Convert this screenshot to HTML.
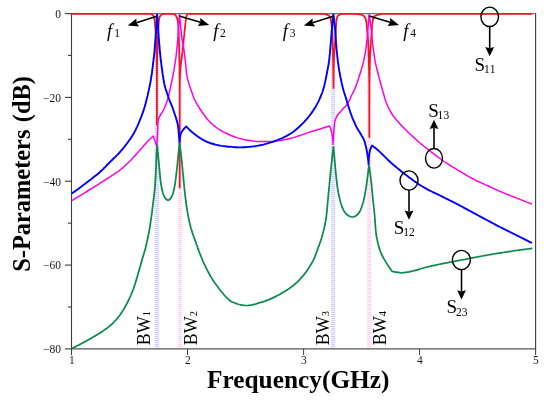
<!DOCTYPE html>
<html><head><meta charset="utf-8"><title>S-Parameters</title>
<style>
html,body{margin:0;padding:0;background:#fff;}
svg{display:block;}
text{font-family:"Liberation Serif",serif;fill:#000;}
.tick{font-size:11.5px;fill:#1a1a1a;}
.bold{font-weight:bold;}
.it{font-style:italic;}
</style></head><body>
<svg width="550" height="403" viewBox="0 0 550 403">
<defs>
<pattern id="pb" width="4" height="2" patternUnits="userSpaceOnUse"><rect width="4" height="2" fill="#f4f4ff"/><rect y="0" width="4" height="1" fill="#ccccff"/></pattern>
<pattern id="pp" width="4" height="2" patternUnits="userSpaceOnUse"><rect width="4" height="2" fill="#fff4fb"/><rect y="0" width="4" height="1" fill="#ffd0ef"/></pattern>
</defs>
<rect width="550" height="403" fill="#fff"/>

<rect x="154.6" y="13.6" width="4.4" height="334.7" fill="url(#pb)"/>
<rect x="178.2" y="13.6" width="3.8" height="334.7" fill="url(#pp)"/>
<rect x="331.1" y="13.6" width="4.1" height="334.7" fill="url(#pb)"/>
<rect x="367.1" y="13.6" width="4.2" height="334.7" fill="url(#pp)"/>
<g stroke="#3c3c3c" stroke-width="1.1" fill="none">
<path d="M71.5 13.0 V349.5"/><path d="M535.6 13.0 V349.5"/>
<path d="M71.0 348.9 H536.1" stroke="#555" stroke-width="1.4"/>
<path d="M71.5 13.6 H535.6" stroke="#707070"/>
<path d="M64.9 13.6 H71.5"/>
<path d="M67.9 55.5 H71.5"/>
<path d="M64.9 97.4 H71.5"/>
<path d="M67.9 139.3 H71.5"/>
<path d="M64.9 181.2 H71.5"/>
<path d="M67.9 223.2 H71.5"/>
<path d="M64.9 265.1 H71.5"/>
<path d="M67.9 307.0 H71.5"/>
<path d="M64.9 348.9 H71.5"/>
<path d="M71.5 348.9 V355.1" stroke-width="1"/>
<path d="M187.5 348.9 V355.1" stroke-width="1"/>
<path d="M303.6 348.9 V355.1" stroke-width="1"/>
<path d="M419.6 348.9 V355.1" stroke-width="1"/>
<path d="M535.6 348.9 V355.1" stroke-width="1"/>
</g>
<text class="tick" x="61" y="17.9" text-anchor="end">0</text>
<text class="tick" x="61" y="101.7" text-anchor="end">−20</text>
<text class="tick" x="61" y="185.5" text-anchor="end">−40</text>
<text class="tick" x="61" y="269.4" text-anchor="end">−60</text>
<text class="tick" x="61" y="353.2" text-anchor="end">−80</text>
<text class="tick" x="71.8" y="364.0" text-anchor="middle">1</text>
<text class="tick" x="187.8" y="364.0" text-anchor="middle">2</text>
<text class="tick" x="303.9" y="364.0" text-anchor="middle">3</text>
<text class="tick" x="419.9" y="364.0" text-anchor="middle">4</text>
<text class="tick" x="535.9" y="364.0" text-anchor="middle">5</text>
<path d="M71.7 13.9 L73.6 13.9 L75.6 13.9 L77.5 13.9 L79.4 13.9 L81.4 13.9 L83.3 13.9 L85.2 13.9 L87.2 13.9 L89.1 13.9 L91.0 13.9 L93.0 13.9 L94.9 13.9 L96.8 13.9 L98.7 13.9 L100.7 13.9 L102.6 13.9 L104.5 13.9 L106.5 13.9 L108.4 13.9 L110.3 13.9 L112.3 13.9 L114.2 13.9 L116.1 13.9 L118.1 13.9 L120.0 13.9 L122.0 13.9 L124.0 13.9 L126.0 13.9 L128.0 13.9 L130.0 13.9 L132.0 13.9 L134.0 13.9 L136.0 13.9 L138.0 13.9 L140.0 13.9 L142.0 13.9 L144.0 13.9 L146.0 13.9 L147.5 13.9 L149.0 13.9 L150.4 14.0 L151.5 14.3 L152.5 14.9 L153.3 15.6 L153.8 16.4 L154.2 17.9 L154.5 19.5 L154.7 21.2 L154.9 22.9 L155.1 24.8 L155.3 26.6 L155.4 28.5 L155.6 30.4 L155.7 32.3 L155.8 34.1 L155.9 36.0 L156.0 37.9 L156.1 39.7 L156.2 41.6 L156.2 43.4 L156.3 45.3 L156.4 47.1 L156.4 48.9 L156.5 50.8 L156.6 52.6 L156.6 54.5 L156.6 56.3 L156.7 58.2 L156.7 60.0 L156.7 61.9 L156.7 63.8 L156.8 65.8 L156.8 67.7 L156.8 69.6 L156.8 71.5 L156.8 73.5 L156.9 75.4 L156.9 77.3 L156.9 79.2 L156.9 81.2 L156.9 83.1 L156.9 85.0 L156.9 87.0 L156.9 88.9 L156.9 90.9 L156.9 92.9 L156.9 94.9 L156.9 96.8 L156.9 98.8 L156.9 100.8 L156.9 102.8 L156.9 104.7 L156.9 106.7 L156.9 108.7 L156.9 110.7 L156.9 112.6 L156.9 114.6 L156.9 116.6 L156.9 118.6 L156.9 120.5 L156.9 122.5 L156.9 124.5 L156.9 122.5 L156.9 120.5 L156.9 118.6 L156.9 116.6 L156.9 114.6 L156.9 112.6 L156.9 110.7 L156.9 108.7 L156.9 106.7 L156.9 104.7 L156.9 102.8 L156.9 100.8 L156.9 98.8 L156.9 96.8 L156.9 94.9 L156.9 92.9 L156.9 90.9 L156.9 88.9 L156.9 87.0 L156.9 85.0 L156.9 83.1 L156.9 81.2 L156.9 79.2 L156.9 77.3 L156.9 75.4 L157.0 73.5 L157.0 71.5 L157.0 69.6 L157.0 67.7 L157.0 65.8 L157.1 63.8 L157.1 61.9 L157.1 60.0 L157.1 58.2 L157.2 56.3 L157.2 54.5 L157.3 52.6 L157.3 50.8 L157.4 48.9 L157.5 47.1 L157.6 45.3 L157.7 43.4 L157.7 41.6 L157.8 39.7 L157.9 37.9 L158.0 36.0 L158.1 34.1 L158.1 32.3 L158.2 30.4 L158.3 28.5 L158.4 26.6 L158.6 24.8 L158.7 22.9 L158.9 20.9 L159.2 18.9 L159.6 17.0 L160.3 15.8 L161.3 14.8 L162.1 14.2 L163.0 13.9 L164.5 13.9 L166.0 13.9 L168.0 13.9 L170.0 13.9 L171.6 14.0 L173.2 14.1 L174.3 14.5 L175.3 15.1 L176.2 16.3 L176.9 17.7 L177.4 19.4 L177.8 21.1 L178.0 22.9 L178.2 24.8 L178.3 26.6 L178.4 28.5 L178.5 30.4 L178.6 32.3 L178.7 34.1 L178.7 36.0 L178.8 37.9 L178.9 39.8 L178.9 41.7 L179.0 43.6 L179.1 45.5 L179.1 47.4 L179.2 49.3 L179.2 51.2 L179.3 53.1 L179.3 55.0 L179.3 56.9 L179.4 58.7 L179.4 60.6 L179.5 62.5 L179.5 64.4 L179.6 66.2 L179.6 68.1 L179.6 70.0 L179.6 71.9 L179.6 73.7 L179.6 75.6 L179.6 77.5 L179.7 79.4 L179.7 81.2 L179.7 83.1 L179.7 85.0 L179.7 86.9 L179.7 88.7 L179.7 90.6 L179.7 92.5 L179.7 94.4 L179.7 96.2 L179.7 98.1 L179.7 100.0 L179.7 102.0 L179.7 104.0 L179.7 106.0 L179.7 108.0 L179.7 109.9 L179.7 111.9 L179.7 113.9 L179.7 115.9 L179.7 117.9 L179.7 119.9 L179.7 121.9 L179.7 123.9 L179.7 125.9 L179.7 127.8 L179.7 129.8 L179.7 131.8 L179.7 133.8 L179.7 135.8 L179.7 137.8 L179.7 139.8 L179.7 141.8 L179.7 143.7 L179.7 145.7 L179.7 147.7 L179.7 149.7 L179.7 151.7 L179.7 153.7 L179.7 155.7 L179.7 157.7 L179.7 159.7 L179.7 161.6 L179.7 163.6 L179.7 165.6 L179.7 167.6 L179.7 169.6 L179.7 171.6 L179.7 173.6 L179.7 175.6 L179.7 177.6 L179.7 179.5 L179.7 181.5 L179.7 183.5 L179.7 185.5 L179.7 187.5 L179.7 185.5 L179.7 183.5 L179.7 181.5 L179.7 179.5 L179.7 177.6 L179.7 175.6 L179.7 173.6 L179.7 171.6 L179.7 169.6 L179.7 167.6 L179.7 165.6 L179.7 163.6 L179.7 161.6 L179.7 159.7 L179.7 157.7 L179.7 155.7 L179.7 153.7 L179.7 151.7 L179.7 149.7 L179.7 147.7 L179.7 145.7 L179.7 143.7 L179.7 141.8 L179.7 139.8 L179.7 137.8 L179.7 135.8 L179.7 133.8 L179.7 131.8 L179.7 129.8 L179.7 127.8 L179.7 125.9 L179.7 123.9 L179.7 121.9 L179.7 119.9 L179.7 117.9 L179.7 115.9 L179.7 113.9 L179.7 111.9 L179.7 109.9 L179.7 108.0 L179.7 106.0 L179.7 104.0 L179.7 102.0 L179.7 100.0 L179.7 98.2 L179.7 96.4 L179.7 94.6 L179.7 92.8 L179.7 91.0 L179.7 89.2 L179.8 87.4 L179.8 85.6 L179.8 83.8 L179.8 82.0 L179.8 80.3 L179.9 78.5 L179.9 76.8 L180.0 75.0 L180.1 73.3 L180.2 71.5 L180.3 69.8 L180.4 68.1 L180.6 66.3 L180.8 64.6 L181.0 62.9 L181.3 61.1 L181.5 59.4 L181.8 57.5 L182.0 55.5 L182.3 53.6 L182.6 51.6 L182.8 49.7 L183.0 47.8 L183.2 45.8 L183.4 43.9 L183.5 41.9 L183.7 39.9 L183.9 38.0 L184.1 36.2 L184.3 34.4 L184.4 32.7 L184.6 30.9 L184.8 29.1 L185.0 27.3 L185.2 25.6 L185.4 23.8 L185.6 22.0 L185.8 20.4 L185.9 18.7 L186.2 17.1 L186.5 15.6 L186.9 14.8 L187.6 14.2 L188.7 14.0 L190.0 13.9 L192.0 13.9 L194.0 13.9 L196.0 13.9 L198.0 13.9 L200.0 13.9 L202.0 13.9 L204.0 13.9 L206.0 13.9 L208.0 13.9 L210.0 13.9 L212.0 13.9 L214.0 13.9 L216.0 13.9 L218.0 13.9 L220.0 13.9 L222.0 13.9 L224.0 13.9 L226.0 13.9 L228.0 13.9 L230.0 13.9 L232.0 13.9 L234.0 13.9 L236.0 13.9 L238.0 13.9 L240.0 13.9 L242.0 13.9 L244.0 13.9 L246.0 13.9 L248.0 13.9 L250.0 13.9 L251.9 13.9 L253.9 13.9 L255.8 13.9 L257.8 13.9 L259.7 13.9 L261.7 13.9 L263.6 13.9 L265.5 13.9 L267.5 13.9 L269.4 13.9 L271.4 13.9 L273.3 13.9 L275.3 13.9 L277.2 13.9 L279.1 13.9 L281.1 13.9 L283.0 13.9 L285.0 13.9 L286.9 13.9 L288.9 13.9 L290.8 13.9 L292.7 13.9 L294.7 13.9 L296.6 13.9 L298.6 13.9 L300.5 13.9 L302.5 13.9 L304.4 13.9 L306.3 13.9 L308.3 13.9 L310.2 13.9 L312.2 13.9 L314.1 13.9 L316.1 13.9 L318.0 13.9 L320.0 13.9 L322.0 13.9 L323.5 14.0 L325.0 14.2 L326.8 14.6 L328.4 15.2 L329.5 16.3 L330.3 17.7 L330.7 19.3 L331.1 21.1 L331.3 22.9 L331.5 24.8 L331.7 26.6 L331.9 28.5 L332.0 30.4 L332.1 32.3 L332.3 34.1 L332.4 36.0 L332.5 37.9 L332.6 39.7 L332.6 41.6 L332.7 43.4 L332.8 45.3 L332.8 47.1 L332.9 48.9 L332.9 50.8 L333.0 52.6 L333.0 54.5 L333.0 56.3 L333.1 58.2 L333.1 60.0 L333.1 61.9 L333.2 63.7 L333.2 65.6 L333.2 67.5 L333.3 69.3 L333.3 71.2 L333.3 73.1 L333.4 74.9 L333.4 76.8 L333.4 78.7 L333.4 80.5 L333.4 82.4 L333.5 84.3 L333.5 86.1 L333.5 88.0 L333.5 86.1 L333.5 84.3 L333.5 82.4 L333.5 80.5 L333.6 78.7 L333.6 76.8 L333.6 74.9 L333.6 73.1 L333.7 71.2 L333.7 69.3 L333.7 67.5 L333.8 65.6 L333.8 63.7 L333.9 61.9 L333.9 60.0 L334.0 58.1 L334.1 56.2 L334.2 54.4 L334.3 52.5 L334.5 50.6 L334.6 48.7 L334.8 46.9 L334.9 45.0 L335.0 43.2 L335.2 41.5 L335.4 39.7 L335.5 37.9 L335.6 36.0 L335.7 34.2 L335.8 32.3 L335.8 30.4 L335.9 28.6 L336.0 26.7 L336.1 24.8 L336.2 22.9 L336.4 21.0 L336.6 19.2 L337.0 17.4 L337.8 15.9 L338.6 15.3 L339.6 14.8 L340.8 14.3 L342.0 14.0 L343.5 13.9 L345.0 13.9 L347.0 13.9 L349.0 13.9 L351.0 13.9 L352.8 13.9 L354.5 14.0 L356.2 14.1 L357.9 14.2 L359.6 14.4 L361.2 14.7 L362.8 15.3 L364.2 16.3 L365.1 17.6 L365.7 19.2 L366.1 20.9 L366.4 22.6 L366.6 24.4 L366.8 26.3 L367.0 28.1 L367.1 30.0 L367.3 31.9 L367.5 33.4 L367.6 34.9 L367.8 36.4 L367.9 37.9 L368.0 39.7 L368.1 41.6 L368.2 43.4 L368.3 45.3 L368.4 47.1 L368.5 48.9 L368.5 50.8 L368.6 52.6 L368.6 54.5 L368.7 56.3 L368.8 58.2 L368.8 60.0 L368.8 61.9 L368.9 63.7 L368.9 65.6 L369.0 67.5 L369.0 69.4 L369.1 71.2 L369.1 73.1 L369.1 75.0 L369.2 76.9 L369.2 78.7 L369.2 80.6 L369.3 82.5 L369.3 84.4 L369.3 86.2 L369.3 88.1 L369.3 90.0 L369.3 92.0 L369.3 93.9 L369.3 95.9 L369.3 97.8 L369.3 99.8 L369.3 101.7 L369.3 103.7 L369.3 105.7 L369.3 107.6 L369.3 109.6 L369.3 111.5 L369.3 113.5 L369.3 115.5 L369.3 117.4 L369.3 119.4 L369.3 121.3 L369.3 123.3 L369.3 125.2 L369.3 127.2 L369.3 129.2 L369.3 131.1 L369.3 133.1 L369.3 135.0 L369.3 137.0 L369.3 135.0 L369.3 133.1 L369.3 131.1 L369.3 129.2 L369.3 127.2 L369.3 125.2 L369.3 123.3 L369.3 121.3 L369.3 119.4 L369.3 117.4 L369.3 115.5 L369.3 113.5 L369.3 111.5 L369.3 109.6 L369.3 107.6 L369.3 105.7 L369.4 103.7 L369.4 101.7 L369.4 99.8 L369.4 97.8 L369.4 95.9 L369.4 93.9 L369.4 92.0 L369.4 90.0 L369.4 88.1 L369.4 86.2 L369.4 84.4 L369.5 82.5 L369.5 80.6 L369.5 78.7 L369.5 76.9 L369.6 75.0 L369.6 73.1 L369.6 71.2 L369.7 69.4 L369.7 67.5 L369.8 65.6 L369.8 63.7 L369.9 61.9 L369.9 60.0 L370.0 58.2 L370.0 56.3 L370.1 54.5 L370.2 52.6 L370.4 50.8 L370.5 48.9 L370.6 47.1 L370.7 45.3 L370.9 43.4 L371.0 41.6 L371.2 39.7 L371.3 37.9 L371.4 36.0 L371.6 34.1 L371.8 32.3 L371.9 30.4 L372.0 28.5 L372.1 26.6 L372.2 24.8 L372.4 22.9 L372.6 21.4 L372.9 19.8 L373.3 18.4 L374.0 17.0 L375.0 15.9 L376.6 15.2 L378.4 14.7 L380.2 14.3 L382.0 14.0 L383.3 13.9 L384.7 13.9 L386.0 13.9 L388.0 13.9 L390.0 13.9 L392.0 13.9 L394.0 13.9 L396.0 13.9 L398.0 13.9 L400.0 13.9 L402.0 13.9 L404.0 13.9 L406.0 13.9 L408.0 13.9 L410.0 13.9 L412.0 13.9 L414.0 13.9 L416.0 13.9 L418.0 13.9 L420.0 13.9 L422.0 13.9 L424.0 13.9 L426.0 13.9 L428.0 13.9 L430.0 13.9 L432.0 13.9 L434.0 13.9 L436.0 13.9 L438.0 13.9 L440.0 13.9 L442.0 13.9 L444.0 13.9 L446.0 13.9 L448.0 13.9 L450.0 13.9 L452.0 13.9 L454.0 13.9 L456.0 13.9 L458.0 13.9 L460.0 13.9 L462.0 13.9 L464.0 13.9 L466.0 13.9 L468.0 13.9 L470.0 13.9 L472.0 13.9 L474.0 13.9 L476.0 13.9 L478.0 13.9 L480.0 13.9 L482.0 13.9 L484.0 13.9 L486.0 13.9 L488.0 13.9 L490.0 13.9 L492.0 13.9 L494.0 13.9 L496.0 13.9 L498.0 13.9 L500.0 13.9 L502.0 13.9 L504.0 13.9 L506.0 13.9 L508.0 13.9 L510.0 13.9 L512.0 13.9 L514.0 13.9 L516.0 13.9 L518.0 13.9 L520.0 13.9 L522.0 13.9 L524.0 13.9 L526.0 13.9 L528.0 13.9 L530.0 13.9 L532.0 13.9" fill="none" stroke="#f4141c" stroke-width="1.75" stroke-linejoin="round"/>
<path d="M71.7 200.6 L73.4 199.6 L75.0 198.6 L76.7 197.6 L78.4 196.6 L80.0 195.6 L81.7 194.6 L83.4 193.6 L85.0 192.6 L86.7 191.5 L88.3 190.5 L90.0 189.5 L91.7 188.5 L93.3 187.4 L95.0 186.4 L96.7 185.3 L98.4 184.3 L100.0 183.2 L101.7 182.1 L103.3 181.1 L105.0 180.0 L106.5 179.0 L108.0 178.1 L109.6 177.1 L111.1 176.1 L112.6 175.1 L114.1 174.2 L115.6 173.2 L117.1 172.1 L118.6 171.1 L120.0 170.0 L121.5 168.8 L123.0 167.6 L124.4 166.3 L125.8 165.0 L127.2 163.7 L128.6 162.3 L130.0 161.0 L131.3 159.7 L132.6 158.3 L133.8 157.0 L135.1 155.6 L136.3 154.2 L137.5 152.8 L138.8 151.4 L140.0 150.0 L141.1 148.7 L142.3 147.4 L143.4 146.1 L144.5 144.8 L145.7 143.5 L146.8 142.2 L148.0 141.0 L149.3 139.7 L150.6 138.5 L151.9 137.2 L153.2 136.0 L153.7 137.5 L154.2 139.0 L154.8 140.5 L155.3 142.0 L155.8 143.3 L156.3 144.7 L156.8 146.0 L156.9 144.3 L157.0 142.6 L157.1 140.9 L157.2 139.1 L157.3 137.4 L157.4 135.7 L157.5 134.0 L157.6 132.0 L157.6 130.1 L157.7 128.1 L157.7 126.2 L157.8 124.2 L157.9 122.3 L158.1 120.8 L158.5 119.3 L159.0 117.9 L159.8 116.2 L160.8 114.5 L161.9 112.9 L162.9 111.2 L163.7 109.5 L164.5 107.7 L165.3 105.9 L166.0 104.1 L166.7 102.3 L167.3 100.5 L167.8 98.8 L168.3 97.0 L168.7 95.3 L169.1 93.5 L169.5 91.8 L169.9 90.0 L170.3 88.2 L170.6 86.5 L171.0 84.7 L171.4 82.8 L171.8 81.0 L172.2 79.1 L172.6 77.3 L173.0 75.4 L173.3 73.5 L173.7 71.7 L174.0 69.8 L174.3 68.0 L174.6 66.1 L174.9 64.3 L175.2 62.4 L175.5 60.6 L175.7 58.7 L176.0 56.9 L176.2 55.0 L176.4 53.1 L176.6 51.3 L176.8 49.4 L177.0 47.5 L177.2 45.6 L177.4 43.8 L177.5 41.9 L177.7 40.0 L177.8 38.3 L178.0 36.7 L178.1 35.0 L178.2 33.3 L178.3 31.7 L178.4 30.0 L178.5 28.3 L178.6 26.7 L178.7 25.0 L178.8 23.3 L178.9 21.7 L179.0 20.0 L179.1 18.3 L179.3 16.5 L179.4 14.8 L179.6 16.5 L179.8 18.3 L180.0 20.0 L180.2 21.8 L180.4 23.7 L180.6 25.5 L180.7 27.4 L180.9 29.3 L181.1 31.1 L181.3 33.0 L181.5 34.8 L181.8 36.6 L182.0 38.4 L182.3 40.2 L182.6 42.0 L182.9 43.7 L183.2 45.4 L183.5 47.1 L183.8 48.9 L184.1 50.6 L184.3 52.3 L184.5 54.2 L184.8 56.2 L185.0 58.1 L185.2 60.1 L185.4 62.0 L185.6 64.0 L185.8 65.8 L186.0 67.7 L186.1 69.5 L186.3 71.4 L186.5 73.2 L186.8 75.0 L187.1 76.6 L187.4 78.2 L187.8 79.8 L188.3 81.4 L188.7 83.0 L189.3 84.9 L189.9 86.8 L190.5 88.6 L191.2 90.5 L191.8 92.3 L192.5 94.1 L193.1 96.0 L193.8 97.7 L194.6 99.5 L195.4 101.1 L196.2 102.7 L197.1 104.3 L198.1 105.9 L199.0 107.5 L200.0 109.0 L201.0 110.5 L202.0 112.0 L203.1 113.5 L204.2 115.0 L205.3 116.5 L206.4 118.0 L207.6 119.4 L208.8 120.7 L210.0 122.0 L211.3 123.3 L212.6 124.5 L214.0 125.7 L215.5 126.9 L217.0 128.0 L218.5 129.0 L220.0 130.0 L221.6 130.9 L223.2 131.8 L224.9 132.7 L226.6 133.5 L228.3 134.3 L230.0 135.0 L231.6 135.7 L233.3 136.3 L234.9 137.0 L236.6 137.6 L238.3 138.1 L240.0 138.6 L241.6 139.0 L243.3 139.4 L245.0 139.7 L246.6 140.1 L248.3 140.4 L250.0 140.6 L251.7 140.8 L253.3 141.1 L255.0 141.3 L256.7 141.4 L258.3 141.6 L260.0 141.6 L262.0 141.6 L264.0 141.6 L266.0 141.6 L268.0 141.6 L270.0 141.6 L271.7 141.6 L273.3 141.4 L275.0 141.2 L276.7 141.0 L278.3 140.7 L280.0 140.5 L281.7 140.2 L283.4 139.9 L285.0 139.6 L286.7 139.3 L288.3 138.9 L290.0 138.5 L291.7 138.1 L293.4 137.6 L295.0 137.1 L296.7 136.6 L298.3 136.0 L300.0 135.5 L301.7 134.9 L303.3 134.4 L305.0 133.8 L306.7 133.1 L308.3 132.6 L310.0 132.0 L311.7 131.5 L313.3 131.0 L315.0 130.5 L316.7 130.0 L318.3 129.5 L320.0 129.0 L321.5 128.5 L323.0 128.0 L324.5 127.5 L326.0 127.0 L327.8 126.5 L329.6 126.0 L330.2 127.5 L330.8 129.0 L331.2 130.5 L331.6 132.0 L331.9 133.7 L332.2 135.5 L332.5 137.3 L332.7 139.1 L332.8 140.9 L333.0 142.7 L333.0 144.5 L333.1 142.7 L333.2 140.9 L333.3 139.1 L333.4 137.4 L333.5 135.6 L333.7 133.8 L333.8 132.0 L333.9 130.2 L334.1 128.4 L334.2 126.6 L334.4 124.8 L334.6 123.0 L335.0 121.2 L335.5 119.4 L336.2 117.6 L337.0 116.0 L338.0 114.4 L339.3 112.9 L340.7 111.5 L342.0 110.0 L343.2 108.6 L344.5 107.3 L345.8 105.9 L347.0 104.5 L348.0 103.0 L348.8 101.6 L349.5 100.1 L350.2 98.6 L350.8 97.0 L351.5 95.5 L352.3 94.0 L353.0 92.6 L353.8 91.1 L354.5 89.6 L355.2 87.8 L356.0 85.9 L356.6 84.1 L357.3 82.2 L357.9 80.4 L358.5 78.5 L359.1 76.6 L359.7 74.7 L360.3 72.9 L360.9 71.0 L361.4 69.1 L362.0 67.3 L362.5 65.4 L363.0 63.6 L363.5 61.7 L363.9 59.8 L364.3 58.0 L364.6 56.1 L365.0 54.2 L365.3 52.4 L365.6 50.5 L365.9 48.6 L366.2 46.8 L366.4 44.9 L366.6 43.0 L366.8 41.2 L367.0 39.3 L367.2 37.5 L367.4 35.6 L367.6 33.7 L367.7 31.9 L367.9 30.0 L368.0 28.3 L368.1 26.7 L368.3 25.0 L368.4 23.3 L368.5 21.7 L368.6 20.0 L368.7 18.3 L368.9 16.5 L369.0 14.8 L369.3 16.5 L369.6 18.3 L369.9 20.0 L370.2 21.7 L370.4 23.3 L370.6 25.0 L370.9 26.7 L371.1 28.3 L371.3 30.0 L371.5 31.9 L371.7 33.7 L371.9 35.6 L372.1 37.4 L372.2 39.3 L372.4 41.2 L372.6 43.0 L372.8 44.9 L373.0 46.8 L373.3 48.6 L373.5 50.5 L373.7 52.4 L374.0 54.2 L374.3 56.1 L374.6 57.9 L374.9 59.8 L375.2 61.7 L375.6 63.5 L376.0 65.4 L376.5 67.3 L376.9 69.1 L377.4 71.0 L377.8 72.8 L378.3 74.7 L378.8 76.6 L379.3 78.4 L379.8 80.3 L380.3 82.2 L380.8 84.0 L381.3 85.9 L381.9 87.7 L382.4 89.6 L382.9 91.5 L383.5 93.5 L384.0 95.4 L384.5 97.3 L385.1 99.2 L385.7 101.1 L386.4 103.0 L387.1 104.6 L387.8 106.2 L388.5 107.8 L389.3 109.4 L390.2 111.0 L391.1 112.5 L392.0 114.0 L393.0 115.5 L394.1 117.0 L395.2 118.4 L396.4 119.9 L397.6 121.3 L398.8 122.6 L400.0 124.0 L401.2 125.3 L402.4 126.6 L403.6 127.8 L404.9 129.1 L406.2 130.3 L407.4 131.6 L408.7 132.8 L410.0 134.0 L411.4 135.3 L412.8 136.6 L414.2 137.9 L415.7 139.2 L417.1 140.5 L418.5 141.8 L420.0 143.0 L421.4 144.2 L422.8 145.3 L424.2 146.5 L425.7 147.6 L427.1 148.8 L428.6 149.9 L430.0 151.0 L431.4 152.1 L432.8 153.2 L434.3 154.3 L435.7 155.3 L437.1 156.4 L438.6 157.5 L440.0 158.5 L441.4 159.5 L442.8 160.5 L444.2 161.5 L445.7 162.5 L447.1 163.4 L448.5 164.4 L450.0 165.3 L451.6 166.3 L453.3 167.3 L455.0 168.3 L456.7 169.3 L458.3 170.3 L460.0 171.3 L461.7 172.3 L463.3 173.3 L465.0 174.4 L466.6 175.4 L468.3 176.3 L470.0 177.3 L471.6 178.2 L473.3 179.0 L475.0 179.9 L476.6 180.7 L478.3 181.5 L480.0 182.3 L481.7 183.1 L483.3 183.8 L485.0 184.6 L486.7 185.3 L488.3 186.0 L490.0 186.8 L491.7 187.6 L493.3 188.3 L495.0 189.1 L496.7 189.9 L498.3 190.7 L500.0 191.4 L501.7 192.1 L503.3 192.8 L505.0 193.4 L506.7 194.1 L508.3 194.7 L510.0 195.4 L511.7 196.1 L513.3 196.7 L515.0 197.4 L516.7 198.1 L518.3 198.7 L520.0 199.4 L521.7 200.1 L523.4 200.7 L525.1 201.4 L526.8 202.1 L528.6 202.7 L530.3 203.4 L532.0 204.0" fill="none" stroke="#ff00e6" stroke-width="1.5" stroke-linejoin="round"/>
<path d="M71.7 193.6 L73.2 192.5 L74.8 191.4 L76.3 190.3 L77.9 189.2 L79.4 188.0 L80.9 186.9 L82.4 185.8 L84.0 184.6 L85.5 183.5 L87.0 182.3 L88.5 181.2 L90.0 180.0 L91.5 178.9 L92.9 177.8 L94.4 176.6 L95.8 175.5 L97.2 174.4 L98.6 173.2 L100.0 172.0 L101.3 170.8 L102.6 169.6 L103.8 168.3 L105.1 167.1 L106.3 165.8 L107.5 164.5 L108.8 163.3 L110.0 162.0 L111.3 160.8 L112.5 159.5 L113.8 158.3 L115.1 157.1 L116.3 155.8 L117.6 154.6 L118.8 153.3 L120.0 152.0 L121.2 150.6 L122.4 149.2 L123.5 147.8 L124.7 146.4 L125.8 144.9 L126.9 143.5 L128.0 142.0 L129.1 140.5 L130.1 139.1 L131.1 137.6 L132.1 136.1 L133.1 134.5 L134.0 133.0 L134.8 131.4 L135.7 129.8 L136.4 128.2 L137.2 126.6 L137.9 125.0 L138.6 123.3 L139.3 121.7 L140.0 120.0 L140.7 118.2 L141.4 116.4 L142.1 114.5 L142.8 112.7 L143.4 110.9 L144.0 109.0 L144.6 107.1 L145.1 105.3 L145.6 103.4 L146.1 101.5 L146.6 99.6 L147.0 97.8 L147.5 96.0 L147.9 94.2 L148.3 92.4 L148.7 90.6 L149.1 88.8 L149.5 87.0 L149.8 85.3 L150.2 83.6 L150.5 81.9 L150.8 80.2 L151.1 78.4 L151.3 76.7 L151.6 75.0 L151.9 73.2 L152.1 71.3 L152.3 69.5 L152.6 67.7 L152.8 65.8 L153.0 64.0 L153.2 62.1 L153.5 60.1 L153.7 58.2 L154.0 56.2 L154.2 54.3 L154.4 52.3 L154.6 50.6 L154.7 48.9 L154.8 47.2 L154.9 45.4 L155.1 43.7 L155.2 42.0 L155.3 40.3 L155.5 38.6 L155.6 36.9 L155.7 35.1 L155.9 33.4 L156.0 31.7 L156.1 30.0 L156.2 28.3 L156.3 26.7 L156.4 25.0 L156.5 23.3 L156.6 21.7 L156.7 20.0 L156.8 18.2 L157.0 16.3 L157.1 14.5 L157.3 16.3 L157.4 18.2 L157.6 20.0 L157.7 21.7 L157.8 23.3 L158.0 25.0 L158.1 26.7 L158.2 28.3 L158.3 30.0 L158.4 31.7 L158.5 33.4 L158.6 35.1 L158.7 36.9 L158.9 38.6 L159.0 40.3 L159.1 42.0 L159.2 43.7 L159.4 45.4 L159.5 47.2 L159.7 48.9 L159.8 50.6 L160.0 52.3 L160.2 54.3 L160.4 56.2 L160.6 58.2 L160.8 60.1 L161.1 62.1 L161.3 64.0 L161.5 65.8 L161.8 67.7 L162.0 69.5 L162.3 71.3 L162.5 73.2 L162.8 75.0 L163.1 76.7 L163.3 78.3 L163.6 80.0 L163.9 81.7 L164.2 83.3 L164.6 85.0 L165.1 86.9 L165.6 88.8 L166.2 90.6 L166.8 92.5 L167.4 94.3 L168.0 96.0 L168.6 97.8 L169.2 99.5 L169.9 101.3 L170.7 103.2 L171.5 105.0 L172.2 106.7 L172.8 108.5 L173.4 110.2 L174.0 112.0 L174.6 113.7 L175.2 115.5 L175.8 117.2 L176.3 119.0 L176.8 120.7 L177.3 122.5 L177.7 124.2 L178.0 126.0 L178.2 127.7 L178.4 129.3 L178.6 131.0 L178.7 132.7 L178.9 134.3 L179.0 136.0 L179.1 137.7 L179.3 139.5 L179.4 141.2 L179.5 143.0 L179.6 141.2 L179.7 139.4 L179.9 137.7 L180.2 136.0 L180.6 134.3 L181.4 132.6 L182.3 131.0 L183.4 129.5 L184.8 127.9 L186.2 126.5 L187.6 127.9 L189.0 129.3 L190.5 130.7 L192.0 132.0 L193.5 133.3 L195.1 134.5 L196.7 135.8 L198.3 136.9 L200.0 138.0 L201.6 139.0 L203.2 139.9 L204.9 140.8 L206.6 141.6 L208.3 142.3 L210.0 143.0 L211.6 143.5 L213.3 144.0 L214.9 144.5 L216.6 144.9 L218.3 145.3 L220.0 145.6 L221.7 145.9 L223.3 146.1 L225.0 146.3 L226.7 146.5 L228.3 146.7 L230.0 146.8 L231.7 146.9 L233.3 147.1 L235.0 147.2 L236.7 147.3 L238.3 147.4 L240.0 147.4 L241.7 147.4 L243.3 147.3 L245.0 147.2 L246.7 147.1 L248.3 146.9 L250.0 146.8 L251.7 146.6 L253.3 146.4 L255.0 146.2 L256.7 145.9 L258.3 145.6 L260.0 145.3 L261.7 145.0 L263.4 144.6 L265.0 144.1 L266.7 143.7 L268.4 143.2 L270.0 142.7 L271.7 142.2 L273.4 141.6 L275.0 141.0 L276.7 140.3 L278.4 139.7 L280.0 139.0 L281.7 138.3 L283.4 137.5 L285.1 136.7 L286.8 135.8 L288.4 134.9 L290.0 134.0 L291.5 133.0 L293.0 131.9 L294.5 130.8 L295.9 129.7 L297.3 128.5 L298.7 127.2 L300.0 126.0 L301.3 124.7 L302.7 123.4 L304.0 122.1 L305.2 120.7 L306.5 119.3 L307.7 117.9 L308.9 116.5 L310.0 115.0 L311.1 113.6 L312.1 112.1 L313.2 110.6 L314.1 109.1 L315.1 107.6 L316.0 106.0 L316.9 104.4 L317.7 102.9 L318.5 101.3 L319.3 99.6 L320.0 98.0 L320.7 96.3 L321.4 94.7 L322.1 93.0 L322.7 91.3 L323.2 89.6 L323.7 87.8 L324.2 85.9 L324.6 84.1 L325.1 82.2 L325.5 80.3 L325.9 78.5 L326.2 76.6 L326.6 74.7 L327.0 72.8 L327.3 71.0 L327.7 69.1 L328.0 67.3 L328.4 65.4 L328.7 63.5 L329.0 61.7 L329.2 59.8 L329.4 57.9 L329.6 56.1 L329.8 54.2 L330.0 52.4 L330.1 50.5 L330.3 48.6 L330.4 46.8 L330.6 44.9 L330.8 43.0 L330.9 41.2 L331.1 39.3 L331.2 37.4 L331.3 35.6 L331.5 33.7 L331.6 31.9 L331.8 30.0 L332.0 28.3 L332.1 26.7 L332.3 25.0 L332.5 23.3 L332.6 21.7 L332.8 20.0 L333.0 18.2 L333.2 16.3 L333.4 14.5 L333.6 16.3 L333.9 18.2 L334.1 20.0 L334.3 21.7 L334.5 23.3 L334.6 25.0 L334.8 26.7 L335.0 28.3 L335.1 30.0 L335.3 31.9 L335.4 33.7 L335.5 35.6 L335.7 37.4 L335.8 39.3 L335.9 41.2 L336.0 43.0 L336.2 44.9 L336.4 46.8 L336.5 48.6 L336.7 50.5 L336.9 52.4 L337.1 54.2 L337.3 56.1 L337.5 57.9 L337.7 59.8 L337.9 61.7 L338.2 63.5 L338.5 65.4 L338.7 67.3 L339.0 69.1 L339.3 71.0 L339.7 72.8 L340.0 74.7 L340.3 76.6 L340.7 78.4 L341.1 80.3 L341.5 82.2 L341.9 84.0 L342.4 85.9 L342.8 87.8 L343.3 89.6 L343.8 91.5 L344.4 93.3 L345.0 95.2 L345.6 97.0 L346.2 98.9 L346.8 100.8 L347.3 102.7 L347.9 104.6 L348.5 106.5 L349.1 108.4 L349.7 110.3 L350.3 112.1 L351.0 114.0 L351.6 115.7 L352.2 117.3 L352.9 119.0 L353.6 120.6 L354.3 122.2 L355.0 123.8 L355.7 125.4 L356.5 127.0 L357.3 128.5 L358.2 130.0 L359.2 131.5 L360.1 133.0 L361.0 134.5 L361.8 135.9 L362.6 137.2 L363.4 138.6 L364.0 140.0 L364.6 141.6 L365.1 143.3 L365.5 145.0 L366.0 146.8 L366.3 148.5 L366.7 150.3 L367.0 152.0 L367.3 153.8 L367.6 155.5 L367.8 157.3 L368.1 159.1 L368.3 160.9 L368.5 162.7 L368.6 164.5 L368.6 162.7 L368.7 160.8 L368.8 159.0 L369.0 157.2 L369.1 155.5 L369.4 153.7 L369.6 152.0 L370.0 150.4 L370.5 148.8 L371.2 147.2 L372.0 145.6 L373.4 146.5 L374.7 147.5 L376.0 148.5 L377.2 149.5 L378.5 150.6 L379.6 151.7 L380.8 152.9 L382.0 154.0 L383.3 155.3 L384.7 156.6 L386.0 157.9 L387.3 159.2 L388.6 160.5 L390.0 161.8 L391.4 163.1 L392.8 164.3 L394.2 165.5 L395.7 166.7 L397.1 167.9 L398.5 169.1 L400.0 170.3 L401.4 171.4 L402.8 172.5 L404.2 173.7 L405.7 174.8 L407.1 175.8 L408.6 176.9 L410.0 178.0 L411.4 179.0 L412.8 180.1 L414.2 181.1 L415.7 182.1 L417.1 183.1 L418.5 184.1 L420.0 185.0 L421.6 186.0 L423.3 187.0 L424.9 187.9 L426.6 188.9 L428.3 189.8 L430.0 190.7 L431.6 191.5 L433.3 192.3 L435.0 193.1 L436.7 193.9 L438.3 194.7 L440.0 195.5 L441.7 196.3 L443.3 197.2 L445.0 198.0 L446.7 198.8 L448.4 199.6 L450.0 200.5 L451.7 201.3 L453.4 202.2 L455.0 203.0 L456.7 203.9 L458.3 204.7 L460.0 205.6 L461.7 206.5 L463.3 207.4 L465.0 208.3 L466.7 209.2 L468.3 210.1 L470.0 211.0 L471.7 211.9 L473.3 212.8 L475.0 213.7 L476.7 214.6 L478.3 215.5 L480.0 216.4 L481.7 217.3 L483.3 218.2 L485.0 219.1 L486.7 220.0 L488.3 220.9 L490.0 221.7 L491.6 222.6 L493.3 223.5 L495.0 224.4 L496.7 225.3 L498.3 226.1 L500.0 227.0 L501.7 227.8 L503.3 228.7 L505.0 229.5 L506.6 230.4 L508.3 231.2 L510.0 232.0 L511.7 232.9 L513.3 233.7 L515.0 234.5 L516.7 235.3 L518.3 236.2 L520.0 237.0 L521.7 237.9 L523.4 238.7 L525.1 239.6 L526.9 240.4 L528.6 241.3 L530.3 242.1 L532.0 243.0" fill="none" stroke="#0000ff" stroke-width="1.9" stroke-linejoin="round"/>
<path d="M71.7 348.5 L73.4 347.7 L75.0 346.9 L76.6 346.0 L78.3 345.2 L79.9 344.4 L81.5 343.5 L83.2 342.6 L84.8 341.8 L86.4 340.9 L88.0 340.0 L89.7 339.0 L91.5 338.1 L93.2 337.1 L94.9 336.1 L96.6 335.1 L98.3 334.1 L100.0 333.0 L101.6 332.0 L103.1 330.9 L104.7 329.8 L106.2 328.7 L107.7 327.6 L109.2 326.4 L110.6 325.2 L112.0 324.0 L113.4 322.7 L114.7 321.2 L116.1 319.8 L117.3 318.3 L118.6 316.8 L119.8 315.2 L120.9 313.6 L122.0 312.0 L123.0 310.4 L124.0 308.8 L124.9 307.2 L125.8 305.5 L126.8 303.9 L127.6 302.2 L128.5 300.5 L129.3 298.7 L130.1 297.0 L130.9 295.3 L131.6 293.5 L132.3 291.8 L133.0 290.0 L133.6 288.3 L134.2 286.5 L134.8 284.7 L135.4 283.0 L135.9 281.2 L136.4 279.4 L137.0 277.6 L137.5 275.8 L138.0 274.0 L138.5 272.3 L139.0 270.5 L139.5 268.8 L140.0 267.0 L140.5 265.3 L141.0 263.5 L141.5 261.8 L142.0 260.0 L142.5 258.3 L143.0 256.5 L143.6 254.8 L144.1 253.0 L144.6 251.3 L145.1 249.5 L145.6 247.8 L146.0 246.0 L146.4 244.2 L146.8 242.4 L147.2 240.6 L147.6 238.8 L148.0 236.9 L148.4 235.1 L148.7 233.3 L149.1 231.5 L149.4 229.7 L149.7 227.8 L150.0 226.0 L150.3 224.2 L150.6 222.3 L150.8 220.5 L151.1 218.7 L151.4 216.9 L151.6 215.0 L151.9 213.2 L152.1 211.3 L152.3 209.5 L152.5 207.7 L152.8 205.8 L153.0 204.0 L153.2 202.2 L153.4 200.4 L153.7 198.6 L153.9 196.8 L154.1 195.0 L154.3 193.2 L154.5 191.4 L154.7 189.6 L154.9 187.8 L155.0 186.0 L155.1 184.2 L155.2 182.4 L155.4 180.6 L155.5 178.8 L155.6 177.0 L155.7 175.2 L155.7 173.4 L155.8 171.6 L155.9 169.8 L156.0 168.0 L156.1 166.1 L156.2 164.3 L156.2 162.4 L156.3 160.5 L156.4 158.6 L156.4 156.7 L156.5 154.9 L156.6 153.0 L156.7 151.1 L156.8 149.1 L157.0 147.2 L157.1 145.3 L157.3 147.0 L157.5 148.8 L157.6 150.5 L157.8 152.3 L158.0 154.0 L158.2 155.7 L158.3 157.3 L158.5 159.0 L158.7 160.7 L158.8 162.3 L159.0 164.0 L159.2 165.8 L159.3 167.6 L159.5 169.5 L159.6 171.3 L159.8 173.1 L160.0 174.9 L160.1 176.8 L160.3 178.6 L160.5 180.4 L160.7 182.2 L161.0 184.0 L161.3 185.8 L161.6 187.6 L161.9 189.3 L162.4 191.1 L162.8 192.8 L163.4 194.5 L164.0 196.0 L165.1 197.9 L166.5 199.6 L168.0 200.4 L169.5 199.6 L170.9 197.9 L172.0 196.0 L172.6 194.5 L173.2 192.8 L173.6 191.1 L174.0 189.3 L174.4 187.6 L174.7 185.8 L175.0 184.0 L175.3 182.2 L175.5 180.5 L175.8 178.7 L176.0 176.9 L176.2 175.1 L176.4 173.4 L176.6 171.6 L176.8 169.8 L177.0 168.0 L177.2 166.2 L177.4 164.4 L177.6 162.7 L177.7 160.9 L177.9 159.1 L178.1 157.3 L178.2 155.6 L178.4 153.8 L178.6 152.0 L178.8 150.2 L179.0 148.5 L179.1 146.7 L179.3 145.0 L179.5 143.2 L179.8 145.0 L180.0 146.8 L180.3 148.6 L180.5 150.4 L180.8 152.2 L181.0 154.0 L181.2 155.8 L181.4 157.6 L181.6 159.4 L181.8 161.3 L182.0 163.1 L182.1 164.9 L182.3 166.7 L182.5 168.5 L182.6 170.4 L182.8 172.2 L183.0 174.0 L183.2 175.8 L183.4 177.6 L183.5 179.5 L183.7 181.3 L183.9 183.1 L184.1 184.9 L184.2 186.7 L184.4 188.6 L184.6 190.4 L184.8 192.2 L185.0 194.0 L185.2 195.9 L185.4 197.8 L185.7 199.6 L185.9 201.5 L186.2 203.4 L186.4 205.3 L186.7 207.1 L187.0 209.0 L187.3 210.8 L187.6 212.7 L187.9 214.5 L188.3 216.3 L188.6 218.2 L189.0 220.0 L189.3 221.6 L189.7 223.2 L190.1 224.8 L190.5 226.4 L191.0 228.2 L191.6 230.1 L192.1 231.9 L192.7 233.7 L193.3 235.5 L194.0 237.3 L194.6 239.1 L195.3 240.9 L195.9 242.7 L196.5 244.5 L197.2 246.3 L197.8 248.1 L198.5 249.9 L199.1 251.7 L199.8 253.5 L200.5 255.2 L201.2 257.0 L202.0 258.8 L202.7 260.5 L203.4 262.2 L204.2 263.8 L205.0 265.5 L205.7 267.1 L206.6 268.8 L207.4 270.4 L208.2 272.0 L209.1 273.6 L210.0 275.2 L210.9 276.8 L211.9 278.4 L212.8 280.0 L213.8 281.5 L214.9 283.1 L216.0 284.6 L217.1 286.1 L218.2 287.6 L219.3 289.1 L220.5 290.5 L221.7 292.0 L223.0 293.5 L224.2 295.0 L225.5 296.5 L226.9 297.9 L228.3 299.2 L229.7 300.4 L231.2 301.4 L232.7 302.2 L234.2 302.8 L235.8 303.4 L237.5 304.0 L239.3 304.5 L241.1 304.9 L242.9 305.2 L244.7 305.4 L246.4 305.5 L248.3 305.4 L250.3 305.2 L252.3 304.8 L254.2 304.3 L256.2 303.8 L258.1 303.2 L260.0 302.7 L261.7 302.2 L263.4 301.7 L265.1 301.1 L266.7 300.4 L268.4 299.8 L270.0 299.1 L271.6 298.4 L273.3 297.6 L274.9 296.9 L276.5 296.1 L278.1 295.2 L279.6 294.4 L281.2 293.5 L282.8 292.6 L284.5 291.6 L286.1 290.6 L287.7 289.6 L289.3 288.5 L290.8 287.4 L292.3 286.3 L293.7 285.2 L295.0 284.0 L296.4 282.8 L297.7 281.6 L299.0 280.3 L300.2 279.0 L301.4 277.7 L302.5 276.4 L303.7 275.1 L304.7 273.7 L305.8 272.3 L306.7 271.0 L307.6 269.7 L308.5 268.3 L309.4 267.0 L310.2 265.6 L311.1 264.2 L311.9 262.8 L312.8 261.4 L313.5 260.0 L314.2 258.4 L314.9 256.8 L315.5 255.1 L316.1 253.5 L316.7 251.8 L317.3 250.2 L317.9 248.5 L318.6 246.6 L319.3 244.8 L319.9 242.9 L320.6 241.1 L321.2 239.2 L321.8 237.3 L322.3 235.5 L322.8 233.6 L323.3 231.8 L323.8 229.9 L324.2 228.1 L324.6 226.2 L325.0 224.3 L325.3 222.5 L325.7 220.6 L326.0 218.7 L326.3 216.9 L326.5 215.0 L326.7 213.1 L326.9 211.3 L327.1 209.4 L327.2 207.5 L327.4 205.6 L327.6 203.8 L327.7 201.9 L327.9 200.0 L328.1 198.1 L328.3 196.2 L328.4 194.3 L328.6 192.4 L328.8 190.5 L329.0 188.6 L329.2 186.8 L329.4 184.9 L329.5 183.0 L329.7 181.1 L329.9 179.2 L330.1 177.3 L330.3 175.4 L330.5 173.4 L330.7 171.5 L330.9 169.5 L331.1 167.6 L331.3 165.7 L331.5 163.7 L331.7 161.8 L331.9 159.8 L332.1 157.9 L332.3 156.0 L332.5 154.2 L332.7 152.3 L333.0 150.5 L333.2 148.6 L333.4 146.8 L333.6 148.7 L333.7 150.6 L333.9 152.5 L334.1 154.4 L334.3 156.4 L334.5 158.3 L334.6 160.2 L334.8 162.1 L335.0 164.0 L335.2 165.8 L335.3 167.6 L335.5 169.5 L335.7 171.3 L335.8 173.1 L336.0 174.9 L336.2 176.7 L336.4 178.6 L336.6 180.4 L336.8 182.2 L337.0 184.0 L337.2 185.8 L337.5 187.6 L337.8 189.4 L338.1 191.2 L338.4 193.0 L338.8 194.7 L339.2 196.5 L339.6 198.3 L340.0 200.0 L340.5 201.9 L341.0 203.8 L341.7 205.7 L342.4 207.6 L343.1 209.4 L344.0 211.0 L345.0 212.5 L346.2 213.9 L347.6 215.1 L349.0 216.0 L350.3 216.5 L351.7 216.8 L353.0 217.0 L354.8 216.5 L356.6 215.3 L358.0 214.0 L359.0 212.7 L359.9 211.2 L360.7 209.5 L361.4 207.7 L362.0 206.0 L362.5 204.3 L363.0 202.7 L363.5 200.9 L363.9 199.2 L364.3 197.5 L364.7 195.7 L365.0 194.0 L365.3 192.2 L365.6 190.5 L365.9 188.7 L366.2 186.9 L366.4 185.1 L366.7 183.3 L366.9 181.6 L367.2 179.8 L367.4 178.0 L367.6 176.2 L367.9 174.4 L368.1 172.6 L368.3 170.7 L368.6 168.9 L368.8 167.1 L369.0 165.3 L369.3 167.1 L369.5 169.0 L369.8 170.8 L370.1 172.6 L370.3 174.5 L370.6 176.3 L370.8 178.2 L371.0 180.0 L371.2 181.8 L371.4 183.6 L371.6 185.4 L371.8 187.3 L371.9 189.1 L372.1 190.9 L372.3 192.7 L372.5 194.5 L372.6 196.4 L372.8 198.2 L373.0 200.0 L373.2 201.8 L373.4 203.5 L373.6 205.2 L373.8 207.0 L374.0 208.7 L374.2 210.5 L374.3 212.2 L374.5 214.0 L374.7 215.9 L374.8 217.7 L374.9 219.6 L375.1 221.5 L375.2 223.4 L375.3 225.2 L375.5 227.1 L375.6 229.0 L375.8 230.8 L376.0 232.7 L376.2 234.5 L376.5 236.3 L376.8 238.1 L377.2 239.9 L377.6 241.7 L378.0 243.5 L378.5 245.3 L378.9 247.1 L379.5 248.8 L380.0 250.5 L380.6 252.1 L381.3 253.7 L382.0 255.3 L382.9 256.8 L383.7 258.4 L384.6 259.9 L385.5 261.4 L386.4 262.9 L387.3 264.4 L388.2 265.8 L389.2 267.3 L390.2 268.7 L391.2 270.1 L392.3 271.5 L394.2 271.8 L396.1 272.1 L398.0 272.4 L399.9 272.7 L401.8 273.0 L403.6 272.7 L405.5 272.4 L407.3 272.1 L409.1 271.8 L410.9 271.4 L412.7 271.0 L414.5 270.6 L416.3 270.1 L418.1 269.6 L419.9 269.0 L421.6 268.5 L423.4 268.0 L425.2 267.5 L427.0 267.0 L428.9 266.6 L430.8 266.1 L432.7 265.7 L434.6 265.3 L436.5 264.9 L438.4 264.5 L440.3 264.1 L442.2 263.7 L444.2 263.3 L446.1 262.9 L448.0 262.6 L449.9 262.2 L451.8 261.8 L453.7 261.5 L455.7 261.1 L457.6 260.7 L459.5 260.4 L461.4 260.0 L463.3 259.6 L465.2 259.3 L467.1 258.9 L469.0 258.5 L470.9 258.2 L472.7 257.8 L474.6 257.4 L476.5 257.1 L478.4 256.7 L480.3 256.4 L482.2 256.0 L484.1 255.7 L486.0 255.3 L487.9 255.0 L489.8 254.7 L491.7 254.3 L493.6 254.0 L495.5 253.7 L497.4 253.4 L499.4 253.1 L501.3 252.8 L503.2 252.5 L505.2 252.2 L507.1 251.9 L509.0 251.6 L511.0 251.3 L512.9 251.0 L514.8 250.7 L516.8 250.5 L518.7 250.2 L520.7 249.9 L522.6 249.7 L524.5 249.4 L526.5 249.1 L528.4 248.9 L530.4 248.6 L532.3 248.4" fill="none" stroke="#0c8a4c" stroke-width="1.75" stroke-linejoin="round"/>
<path d="M156.8 16.2 L136.5 22.8" stroke="#000" stroke-width="1.6" fill="none"/><path d="M127.7 25.6 L136.4 18.4 L136.5 22.8 L139.0 26.4 Z" fill="#000"/>
<path d="M179.2 15.9 L200.3 22.3" stroke="#000" stroke-width="1.6" fill="none"/><path d="M209.2 25.0 L197.9 26.0 L200.3 22.3 L200.3 18.0 Z" fill="#000"/>
<path d="M333.3 16.2 L312.6 22.8" stroke="#000" stroke-width="1.6" fill="none"/><path d="M303.8 25.6 L312.6 18.4 L312.6 22.8 L315.1 26.4 Z" fill="#000"/>
<path d="M369.2 15.9 L390.1 22.3" stroke="#000" stroke-width="1.6" fill="none"/><path d="M399.0 25.0 L387.7 26.0 L390.1 22.3 L390.2 17.9 Z" fill="#000"/>
<text class="it" x="107.0" y="37.3" font-size="18.5">f</text><text x="114.3" y="36.6" font-size="11.5">1</text>
<text class="it" x="213.3" y="37.3" font-size="18.5">f</text><text x="220.0" y="36.6" font-size="11.5">2</text>
<text class="it" x="282.7" y="37.3" font-size="18.5">f</text><text x="289.8" y="36.6" font-size="11.5">3</text>
<text class="it" x="403.2" y="37.3" font-size="18.5">f</text><text x="410.2" y="36.6" font-size="11.5">4</text>
<ellipse cx="489.7" cy="16.8" rx="8.8" ry="9.7" fill="none" stroke="#000" stroke-width="1.4"/>
<path d="M489.7 26.5 L489.7 48.2" stroke="#000" stroke-width="1.6" fill="none"/><path d="M489.7 56.3 L485.3 47.1 L489.7 48.2 L494.1 47.1 Z" fill="#000"/>
<ellipse cx="434" cy="158.3" rx="8.5" ry="9.8" fill="none" stroke="#000" stroke-width="1.4"/>
<path d="M434.0 148.5 L434.0 127.8" stroke="#000" stroke-width="1.6" fill="none"/><path d="M434.0 119.7 L438.4 128.9 L434.0 127.8 L429.6 128.9 Z" fill="#000"/>
<ellipse cx="409" cy="180.5" rx="9" ry="9.6" fill="none" stroke="#000" stroke-width="1.4"/>
<path d="M409.0 190.0 L409.0 211.7" stroke="#000" stroke-width="1.6" fill="none"/><path d="M409.0 219.8 L404.6 210.6 L409.0 211.7 L413.4 210.6 Z" fill="#000"/>
<ellipse cx="461.4" cy="260" rx="9" ry="9.6" fill="none" stroke="#000" stroke-width="1.4"/>
<path d="M461.5 269.6 L461.5 291.4" stroke="#000" stroke-width="1.6" fill="none"/><path d="M461.5 299.5 L457.1 290.3 L461.5 291.4 L465.9 290.3 Z" fill="#000"/>
<text x="474.6" y="70.6" font-size="19">S</text><text x="484.0" y="72.8" font-size="11.5" textLength="11.6" lengthAdjust="spacing">11</text>
<text x="428.2" y="117.2" font-size="19">S</text><text x="437.6" y="119.4" font-size="11.5" textLength="11.6" lengthAdjust="spacing">13</text>
<text x="393.8" y="234.2" font-size="19">S</text><text x="403.2" y="236.4" font-size="11.5" textLength="11.6" lengthAdjust="spacing">12</text>
<text x="446.6" y="313.4" font-size="19">S</text><text x="456.0" y="315.6" font-size="11.5" textLength="11.6" lengthAdjust="spacing">23</text>
<g transform="translate(150.3 345.2) rotate(-90)"><text x="0" y="0" font-size="18">BW</text><text x="29.0" y="0" font-size="10.5">1</text></g>
<g transform="translate(197.2 345.2) rotate(-90)"><text x="0" y="0" font-size="18">BW</text><text x="29.0" y="0" font-size="10.5">2</text></g>
<g transform="translate(329.4 345.2) rotate(-90)"><text x="0" y="0" font-size="18">BW</text><text x="29.0" y="0" font-size="10.5">3</text></g>
<g transform="translate(385.8 345.2) rotate(-90)"><text x="0" y="0" font-size="18">BW</text><text x="29.0" y="0" font-size="10.5">4</text></g>
<text class="bold" x="207" y="388.2" font-size="24.8" textLength="182.5" lengthAdjust="spacingAndGlyphs">Frequency(GHz)</text>
<g transform="translate(29.9 271.8) rotate(-90)"><text class="bold" x="0" y="0" font-size="24.8" textLength="142.2" lengthAdjust="spacingAndGlyphs">S-Parameters</text><text class="bold" x="149.6" y="0" font-size="24.8" textLength="46" lengthAdjust="spacingAndGlyphs">(dB)</text></g>
</svg></body></html>
